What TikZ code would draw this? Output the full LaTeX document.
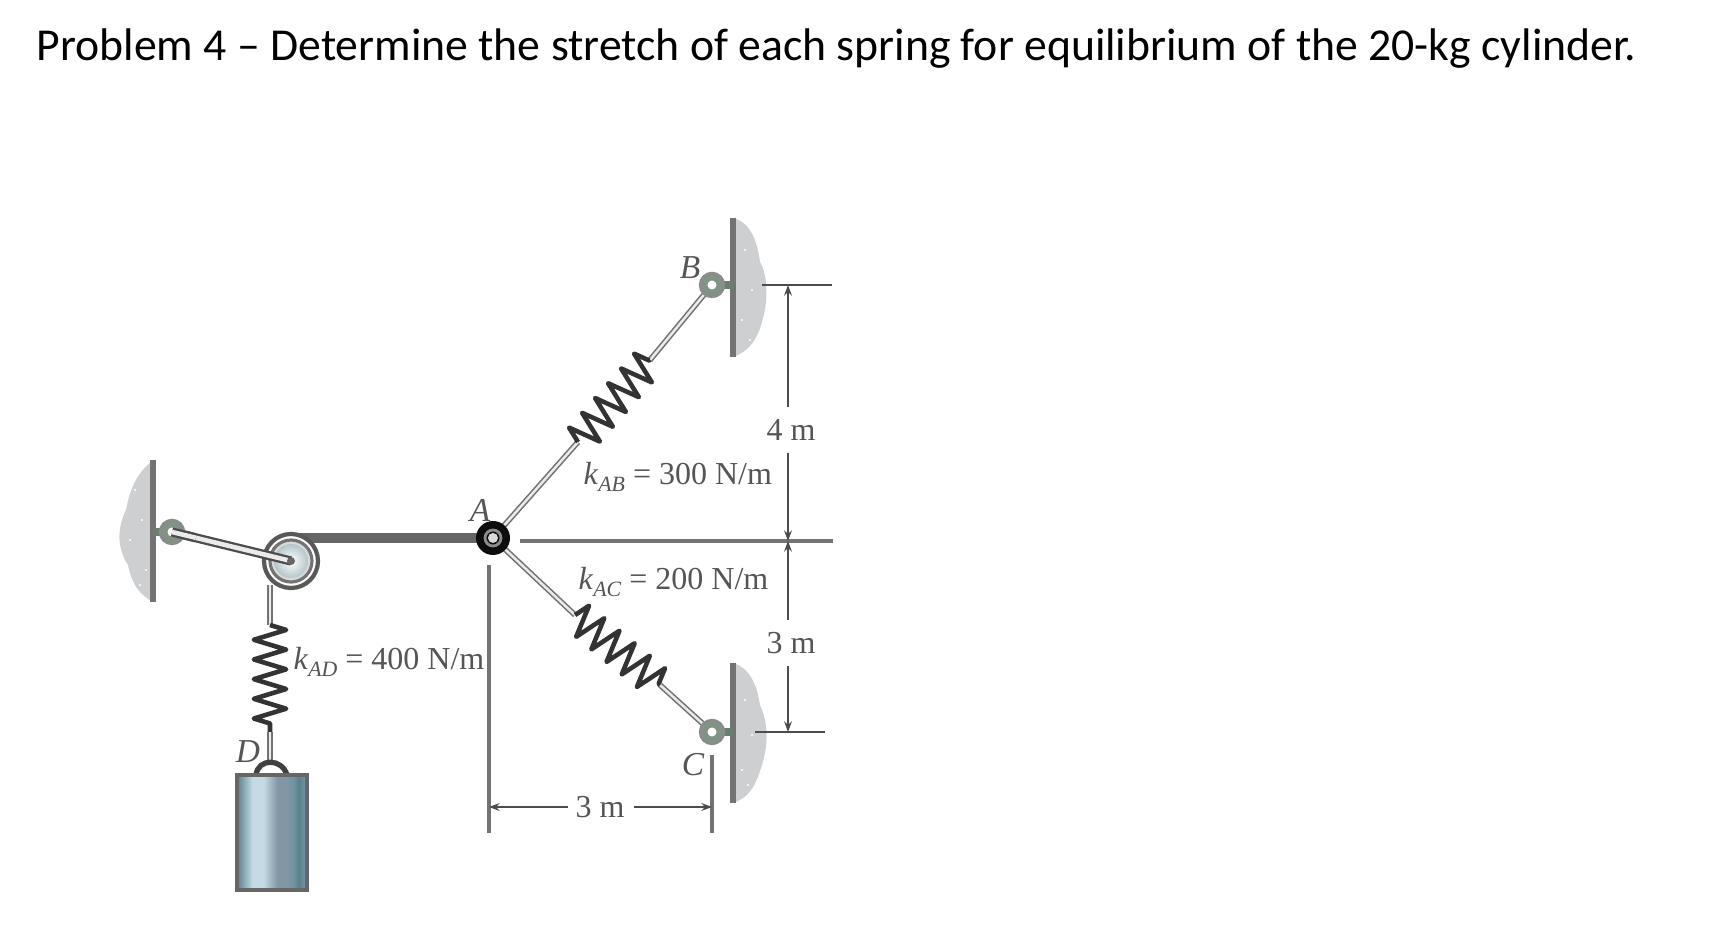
\documentclass[tikz,border=0pt]{standalone}
\usepackage{fontspec}
\setmainfont{Carlito}
\newfontfamily\figfont{Liberation Serif}
\usetikzlibrary{decorations.pathmorphing,calc,arrows.meta}
\definecolor{cylA}{RGB}{88,128,140}
\definecolor{cylB}{RGB}{196,218,228}
\definecolor{cylC}{RGB}{130,150,165}
\definecolor{cylD}{RGB}{108,148,160}
\definecolor{wallgray}{RGB}{205,207,209}
\definecolor{eyegreen}{RGB}{105,128,110}
\definecolor{labgray}{RGB}{85,85,85}
\pgfdeclarehorizontalshading{cylshade}{100bp}{
    color(0bp)=(cylA); color(25bp)=(cylA); color(36bp)=(cylB); color(44bp)=(cylB);
    color(54bp)=(cylC); color(60bp)=(cylC); color(66bp)=(cylD); color(69bp)=(cylA);
    color(75bp)=(cylC); color(100bp)=(cylC)}
\newcommand{\keq}[2]{\figfont\textit{k}\raisebox{-2pt}{\fontsize{6.2pt}{7pt}\selectfont\textit{#1}} = #2 N/m}

\begin{document}
\begin{tikzpicture}[x=0.01cm,y=-0.01cm,>={Stealth[length=3pt,width=2.2pt]},
        wallline/.style={draw=black!55,line width=1.5pt},
        wallfill/.style={fill=wallgray},
        rod/.style={draw=black!55,double=black!8,double distance=0.7pt,line width=0.45pt},
        bigrod/.style={draw=black!70,double=black!8,double distance=1.3pt,line width=0.65pt},
        cable/.style={draw=black!60,line width=2.8pt},
        spring/.style={decorate,draw=black!80,line width=1.3pt,line join=round,
            decoration={zigzag,segment length=5.6pt,amplitude=4.6pt}},
        dimline/.style={draw=black!70,line width=0.75pt},
        extline/.style={draw=black!55,line width=1.1pt},
        lab/.style={text=labgray,font=\figfont\fontsize{9.1pt}{11pt}\selectfont,inner sep=0pt},
        letter/.style={text=labgray,font=\figfont\itshape\fontsize{9.5pt}{11pt}\selectfont,inner sep=0pt},
        dimlab/.style={lab,inner sep=1pt}]
    \useasboundingbox (0,0) rectangle (1712,934);
    \node[anchor=base west,inner sep=0pt,text=black,font=\fontsize{13pt}{16pt}\selectfont] (title) at (36,61)
        {Problem 4 -- Determine the stretch of each spring for equilibrium of the 20-kg cylinder.};
    % points
    \coordinate (A) at (493,538);
    \coordinate (B) at (712,285);
    \coordinate (C) at (712,732);
    \coordinate (E) at (172,532);
    \coordinate (P) at (291,561);
    \coordinate (D) at (270,763);
    \coordinate (dimB) at (788,285);
    \coordinate (dimA) at (788,541);
    \coordinate (dimC) at (788,732);
    \coordinate (dimL) at (489,807);
    \coordinate (dimR) at (712,807);
    \coordinate (wallL) at (153,0);
    \coordinate (wallR) at (733,0);
    % walls
    \fill[wallfill] (153,460) .. controls (135,475) and (130,490) .. (126,510)
        .. controls (116,530) and (118,550) .. (128,565) .. controls (132,585) and (140,595) .. (153,602) -- cycle;
    \fill[wallfill] (733,218) .. controls (750,222) and (757,240) .. (760,262)
        .. controls (768,275) and (768,300) .. (763,318) .. controls (758,340) and (748,352) .. (733,357) -- cycle;
    \fill[wallfill] (733,663) .. controls (750,668) and (757,685) .. (760,705)
        .. controls (769,725) and (768,745) .. (762,765) .. controls (755,788) and (748,798) .. (733,803) -- cycle;
    \foreach \x/\y in {135/490,142/520,130/540,146/570,140/585,745/250,752/290,742/320,750/340,745/700,752/735,742/770,748/785}
        \fill[white] (\x,\y) circle [radius=1.2];
    \draw[wallline] (153,460) -- (153,602);
    \draw[wallline] (733,218) -- (733,357);
    \draw[wallline] (733,663) -- (733,803);
    % brackets and eyes
    \foreach \p/\q in {E/wallL,B/wallR,C/wallR}{
        \draw[draw=eyegreen,line width=2pt] (\p) -- (\p -| \q);
    }
    % extension lines
    \draw[extline] (520,541) -- (833,541);
    \draw[dimline] (762,285) -- (832,285);
    \draw[dimline] (755,732) -- (825,732);
    \draw[extline] (489,565) -- (489,833);
    \draw[extline] (712,755) -- (712,833);
    % dimensions
    \node[dimlab] (fourm) at (791,430) {4 m};
    \node[dimlab] (threemv) at (791,643) {3 m};
    \node[dimlab] (threemh) at (600,807) {3 m};
    \draw[dimline,->] ($(fourm.north -| dimB)+(0,-8)$) -- (dimB);
    \draw[dimline,->] ($(fourm.south -| dimB)+(0,8)$) -- (dimA);
    \draw[dimline,->] ($(threemv.north -| dimB)+(0,-8)$) -- (dimA);
    \draw[dimline,->] ($(threemv.south -| dimB)+(0,8)$) -- (dimC);
    \draw[dimline,->] ($(threemh.west |- dimL)+(-3,0)$) -- (dimL);
    \draw[dimline,->] ($(threemh.east |- dimL)+(5,0)$) -- (dimR);
    % rods and springs
    \draw[rod] (A) -- (578,442);
    \draw[rod] (650,360) -- (B);
    \draw[spring] (578,442) -- (650,360);
    \draw[rod] (A) -- (575,615);
    \draw[rod] (660,685) -- (C);
    \draw[spring] (575,615) -- (660,685);
    \draw[rod] (270,585) -- (270,625);
    \draw[rod] (270,732) -- (D);
    \draw[spring] (270,625) -- (270,732);
    % pulley and cable
    \draw[cable] (288,538) -- (A);
    \filldraw[draw=black!65,fill=white,line width=1.2pt] (P) circle [radius=27];
    \filldraw[draw=black!55,fill=black!15,line width=0.9pt] (P) circle [radius=21];
    \shade[inner color=white,outer color=cylA!45] (P) circle [radius=17];
    \draw[bigrod] (E) -- (P);
    \fill[black!60] (P) circle [radius=4];
    % eyes
    \foreach \p in {E,B,C}{
        \filldraw[draw=black!45,fill=eyegreen!85,line width=0.7pt] (\p) circle [radius=12];
        \fill[white] (\p) circle [radius=4.5];
    }
    \draw[bigrod] (E) -- ($(E)!0.2!(P)$);
    % pin A
    \fill[black!95] (A) circle [radius=17];
    \draw[black!45,line width=0.8pt] (A) circle [radius=8];
    \fill[black!15] (A) circle [radius=5];
    % cylinder
    \draw[draw=black!75,line width=1.5pt] (256,775) .. controls (258,758) and (282,758) .. (287,775);
    \shade[shading=cylshade] (237,775) rectangle (307,890);
    \draw[draw=black!60,line width=1.1pt] (237,775) rectangle (307,890);
    % labels
    \node[lab,anchor=west] (kab) at (583,477) {\keq{AB}{300}};
    \node[lab,anchor=west] (kac) at (578,582) {\keq{AC}{200}};
    \node[lab,anchor=west] (kad) at (293,662) {\keq{AD}{400}};
    \node[letter] (labA) at (480,510) {A};
    \node[letter] (labB) at (690,268) {B};
    \node[letter] (labC) at (693,765) {C};
    \node[letter] (labD) at (248,752) {D};
\end{tikzpicture}
\end{document}
